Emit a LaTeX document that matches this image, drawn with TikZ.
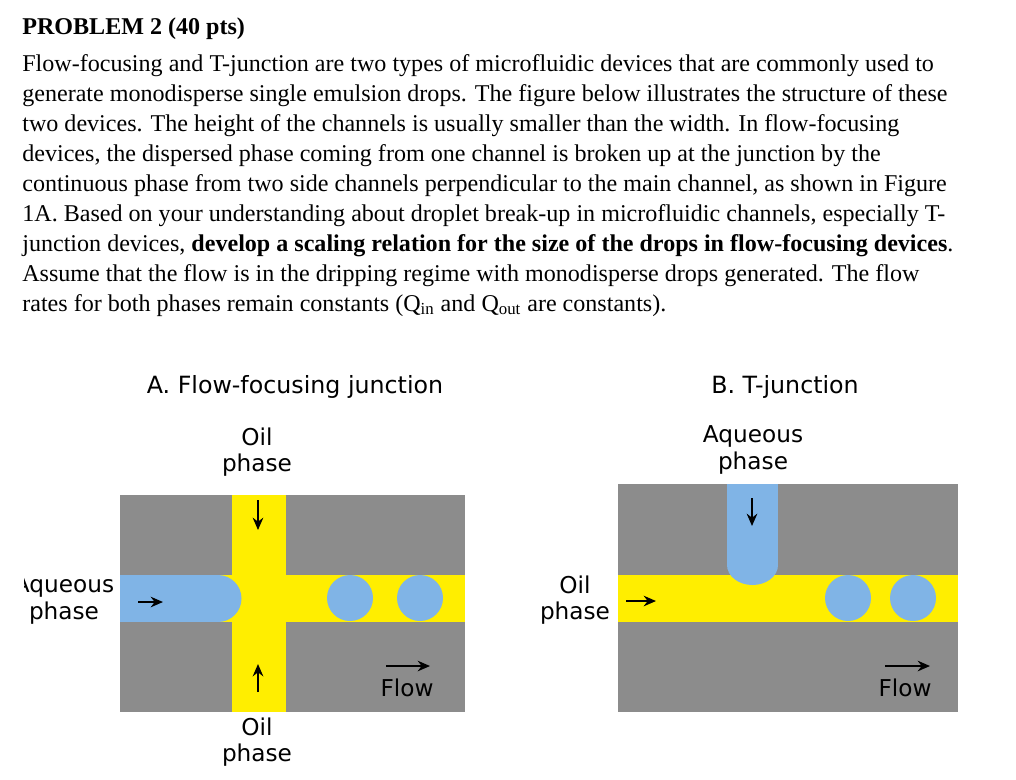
\documentclass[tikz,border=0pt]{standalone}
\usetikzlibrary{arrows.meta}
\usepackage{fontspec}
\setmainfont{Liberation Serif}
\newfontfamily\lab{DejaVu Sans}
\definecolor{gr}{HTML}{8C8C8C}
\definecolor{ye}{HTML}{FFEE00}
\definecolor{bl}{HTML}{80B4E6}
\begin{document}
\begin{tikzpicture}[x=0.02cm,y=-0.02cm,
  para/.style={anchor=base west,inner sep=0,font=\fontsize{13.7}{16}\selectfont},
  lbl/.style={font=\lab\fontsize{13.2}{15}\selectfont,align=center,inner sep=0},
  ttl/.style={font=\lab\fontsize{13.5}{16}\selectfont,inner sep=0},
  arr/.style={-{Stealth[length=7pt,width=6pt]},line width=1.2pt}]
\useasboundingbox (0,0) rectangle (1016,779);
\node[para] (t0) at (22,34) {\textbf{PROBLEM 2 (40 pts)}};
\node[para] (t1) at (22,71) {Flow-focusing and T-junction are two types of microfluidic devices that are commonly used to};
\node[para] (t2) at (22,101) {generate monodisperse single emulsion drops. The figure below illustrates the structure of these};
\node[para] (t3) at (22,131) {two devices. The height of the channels is usually smaller than the width. In flow-focusing};
\node[para] (t4) at (22,161) {devices, the dispersed phase coming from one channel is broken up at the junction by the};
\node[para] (t5) at (22,191) {continuous phase from two side channels perpendicular to the main channel, as shown in Figure};
\node[para] (t6) at (22,221) {1A. Based on your understanding about droplet break-up in microfluidic channels, especially T-};
\node[para] (t7) at (22,251) {junction devices, \textbf{develop a scaling relation for the size of the drops in flow-focusing devices}.};
\node[para] (t8) at (22,281) {Assume that the flow is in the dripping regime with monodisperse drops generated. The flow};
\node[para] (t9) at (22,311) {rates for both phases remain constants (Q\textsubscript{in} and Q\textsubscript{out} are constants).};
% A
\fill[gr] (120,495) rectangle (465,712);
\fill[ye] (232,495) rectangle (286,712);
\fill[ye] (120,575) rectangle (465,622);
\fill[bl] (120,575) rectangle (218,622);
\fill[bl] (218,598.5) circle (23.5);
\fill[bl] (350,598) circle (23);
\fill[bl] (420,598) circle (23);
\coordinate (a1s) at (258,500); \coordinate (a1e) at (258,530);
\draw[arr] (a1s) -- (a1e);
\coordinate (a2s) at (258,692); \coordinate (a2e) at (258,664);
\draw[arr] (a2s) -- (a2e);
\coordinate (a3s) at (138,602); \coordinate (a3e) at (163,602);
\draw[arr] (a3s) -- (a3e);
\coordinate (a4s) at (386,666); \coordinate (a4e) at (430,666);
\draw[arr] (a4s) -- (a4e);
\node[lbl] (fa) at (407,688) {Flow};
\node[ttl] (ta) at (295,387) {A. Flow-focusing junction};
\node[lbl] (oa) at (257,452) {Oil\\phase};
\node[lbl] (ob) at (257,742) {Oil\\phase};
\begin{scope}
\clip (24,560) rectangle (130,640);
\node[lbl] (aq) at (64,600) {Aqueous\\phase};
\end{scope}
% B
\fill[gr] (618,484) rectangle (958,712);
\fill[ye] (618,575) rectangle (958,622);
\fill[bl] (727,484) rectangle (778,565);
\fill[bl] (752.5,565) ellipse [x radius=25.5, y radius=20];
\fill[bl] (848,598) circle (23);
\fill[bl] (913,598) circle (23);
\coordinate (b1s) at (752,498); \coordinate (b1e) at (752,526);
\draw[arr] (b1s) -- (b1e);
\coordinate (b2s) at (626,601); \coordinate (b2e) at (656,601);
\draw[arr] (b2s) -- (b2e);
\coordinate (b3s) at (885,666); \coordinate (b3e) at (930,666);
\draw[arr] (b3s) -- (b3e);
\node[lbl] (fb) at (905,688) {Flow};
\node[ttl] (tb) at (785,387) {B. T-junction};
\node[lbl] (aqb) at (753,450) {Aqueous\\phase};
\node[lbl] (oilb) at (575,600) {Oil\\phase};
\end{tikzpicture}
\end{document}
